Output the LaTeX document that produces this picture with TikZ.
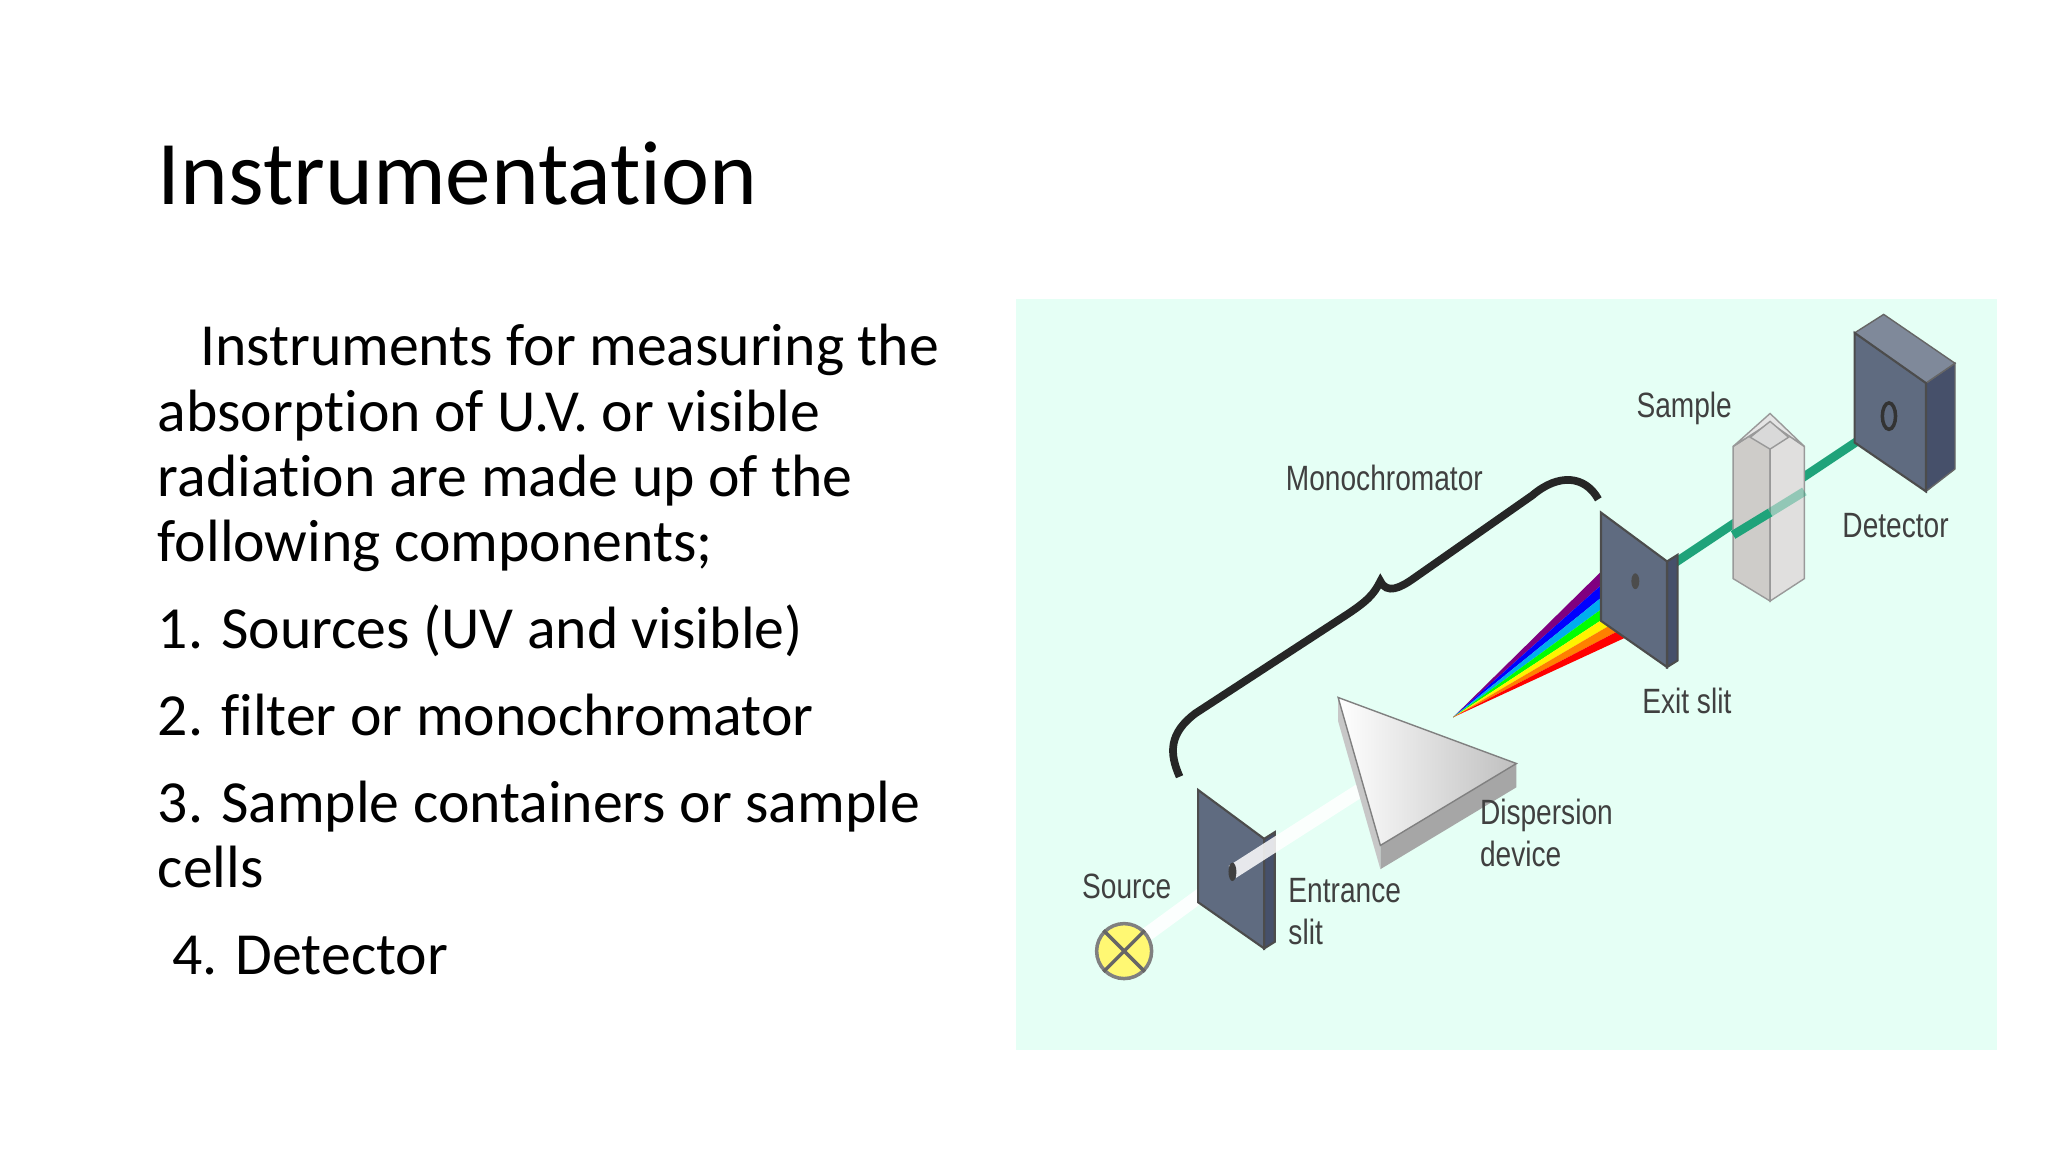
\documentclass[tikz,border=0pt]{standalone}
\usepackage{fontspec}
\setmainfont{Carlito}[Ligatures=NoCommon]
\newfontfamily\labfont{Liberation Sans}
\definecolor{beam}{HTML}{1FA37A}
\definecolor{slate}{HTML}{5F6B80}
\definecolor{slatedark}{HTML}{46506A}
\begin{document}
\begin{tikzpicture}[x=0.01321cm,y=-0.01321cm,
  body/.style={anchor=base west,inner sep=0,font=\fontsize{17}{18}\selectfont},
  lab/.style={font=\labfont\fontsize{10}{12}\selectfont,text=black!75,xscale=0.8,inner sep=0,align=left},
  plate/.style={fill=slate,draw=black!70,line width=0.6pt},
  plateside/.style={fill=slatedark,draw=black!70,line width=0.6pt}]
\useasboundingbox (0,0) rectangle (1550.4,872);
\fill[white] (0,0) rectangle (1550.4,872);
\node[anchor=base west,inner sep=0,font=\fontsize{25.9}{28}\selectfont] (title) at (119,155) {Instrumentation};
\node[body] (l1) at (151,277) {Instruments for measuring the};
\node[body] (l2) at (119,327) {absorption of U.V. or visible};
\node[body] (l3) at (119,376) {radiation are made up of the};
\node[body] (l4) at (119,425) {following components;};
\node[body] (i1) at (119,491) {1. Sources (UV and visible)};
\node[body] (i2) at (119,557) {2. filter or monochromator};
\node[body] (i3) at (119,623) {3. Sample containers or sample};
\node[body] (i3b) at (119,672) {cells};
\node[body] (i4) at (130,738) {4. Detector};
% panel
\fill[green!40!cyan!10] (769,226) rectangle (1512,795);
% brace
\draw[line width=2.2pt,black!85] (893,588) .. controls (885,570) and (885,555) .. (905,540)
  -- (1020,465) .. controls (1035,455) and (1040,450) .. (1045,440)
  .. controls (1050,450) and (1060,445) .. (1070,438)
  -- (1160,375) .. controls (1180,358) and (1200,360) .. (1210,378);
\node[lab] (mono) at (1048,362) {Monochromator};
% source beam
\coordinate (hole1) at (933,660);
\coordinate (pin) at (1030,598);
\draw[white,line width=4pt,opacity=0.9] (851,720) -- (hole1);
% entrance slit
\fill[plateside] (957,635) -- (965,630) -- (965,713) -- (957,718) -- cycle;
\fill[plate] (907,598) -- (957,635) -- (957,718) -- (907,683) -- cycle;
\draw[white,line width=4pt,opacity=0.85] (hole1) -- (pin);
\fill[black!75] (933,660) ellipse (3 and 7);
% source
\node[circle,draw=black!50,fill=yellow!55,minimum size=0.55cm,inner sep=0,line width=1pt] (src) at (851,720) {};
\draw[black!60,line width=1pt] (src.north west) -- (src.south east) (src.north east) -- (src.south west);
\node[lab] (srcl) at (853,671) {Source};
\node[lab,anchor=north west] (entl) at (975,664) {Entrance\\slit};
% prism
\fill[black!35] (1045,640) -- (1148,578) -- (1148,596) -- (1045,658) -- cycle;
\fill[black!22] (1013,528) -- (1045,640) -- (1045,658) -- (1013,546) -- cycle;
\shade[left color=white,right color=black!25,draw=black!50] (1013,528) -- (1148,578) -- (1045,640) -- cycle;
\node[lab,anchor=north west] (disp) at (1120,604) {Dispersion\\device};
% rainbow
\foreach \c [count=\i] in {violet,blue,cyan,green,yellow,orange,red}{
  \fill[\c] (1100,543) -- ({1225+(\i-1)*5},{420+(\i-1)*7}) -- ({1225+\i*5},{420+\i*7}) -- cycle;}
% green beam behind
\coordinate (ex) at (1262,430);
\coordinate (det) at (1430,318);
\draw[beam,line width=2.5pt] (ex) -- (det);
% exit slit
\fill[plateside] (1262,425) -- (1270,420) -- (1270,500) -- (1262,505) -- cycle;
\fill[plate] (1212,388) -- (1262,425) -- (1262,505) -- (1212,470) -- cycle;
\fill[black!70] (1238,440) ellipse (3 and 6);
\node[lab] (exl) at (1277,531) {Exit slit};
% sample cuvette
\fill[black!5!brown!10!gray!40,draw=black!40] (1312,338) -- (1340,320) -- (1340,455) -- (1312,438) -- cycle;
\fill[black!5!brown!8!gray!25,draw=black!40] (1340,320) -- (1366,338) -- (1366,438) -- (1340,455) -- cycle;
\fill[gray!20,draw=black!40] (1312,338) -- (1340,313) -- (1366,338) -- (1340,320) -- cycle;
\draw[black!40,fill=gray!30] (1325,331) -- (1340,319) -- (1354,331) -- (1340,340) -- cycle;
\draw[beam,line width=2.5pt] (1312,405) -- (1340,388);
\draw[beam,line width=2.5pt,opacity=0.4] (1340,388) -- (1366,372);
\node[lab] (saml) at (1275,309) {Sample};
% detector
\fill[slatedark,draw=black!60] (1458,290) -- (1480,275) -- (1480,355) -- (1458,372) -- cycle;
\fill[slate!80!white,draw=black!60] (1404,252) -- (1426,238) -- (1480,275) -- (1458,290) -- cycle;
\fill[plate] (1404,252) -- (1458,290) -- (1458,372) -- (1404,335) -- cycle;
\draw[black!80,line width=1pt] (1430,315) ellipse (5 and 10);
\node[lab] (detl) at (1435,398) {Detector};
\end{tikzpicture}
\end{document}
